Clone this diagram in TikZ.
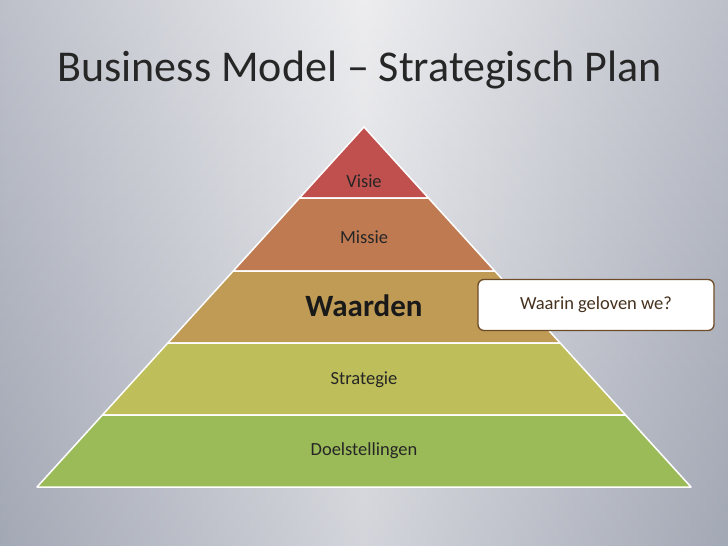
\documentclass[tikz,border=0pt]{standalone}
\usepackage{fontspec}
\setmainfont{Carlito}
\begin{document}
\begin{tikzpicture}[x=1pt,y=-1pt]
\useasboundingbox (0,0) rectangle (728,546);
\definecolor{bgd}{rgb}{0.64,0.66,0.71}
\definecolor{bgl}{rgb}{0.93,0.93,0.94}
\shade[left color=bgd, right color=bgd, middle color=bgl] (0,0) rectangle (728,546);
\shade[opacity=0.35,top color=bgl, bottom color=bgd] (0,0) rectangle (728,546);
\tikzset{layer/.style={draw=white,line width=1.5pt,line join=round}, lbl/.style={font=\fontsize{18.5}{22}\selectfont,text=black!85}}
\def\ax{364}\def\ay{127}\def\k{0.9083}
\newcommand{\lay}[3]{%
  \pgfmathsetmacro{\da}{\k*(#1-\ay)}\pgfmathsetmacro{\db}{\k*(#2-\ay)}%
  \fill[#3,layer] ({\ax-\da},#1) -- ({\ax+\da},#1) -- ({\ax+\db},#2) -- ({\ax-\db},#2) -- cycle;}
\fill[fill={rgb,255:red,192;green,80;blue,77},layer] (\ax,\ay) -- ({\ax+\k*71},198) -- ({\ax-\k*71},198) -- cycle;
\lay{198}{271}{fill={rgb,255:red,192;green,122;blue,82}}
\lay{271}{343}{fill={rgb,255:red,191;green,155;blue,85}}
\lay{343}{415}{fill={rgb,255:red,190;green,190;blue,90}}
\lay{415}{487}{fill={rgb,255:red,155;green,187;blue,89}}
\node[lbl] (visie) at (364,181) {Visie};
\node[lbl] (missie) at (364,237) {Missie};
\node[font=\bfseries\fontsize{31}{36}\selectfont,text=black!90] (waarden) at (364,306) {Waarden};
\node[lbl] (strategie) at (364,380) {Strategie};
\node[lbl] (doel) at (364,451) {Doelstellingen};
\node[draw={rgb,255:red,110;green,75;blue,40},line width=1.3pt,fill=white,rounded corners=6pt,minimum width=236pt,minimum height=51pt,font=\fontsize{18.5}{22}\selectfont,text={rgb,255:red,70;green,50;blue,30}] (callout) at (596,305) {Waarin geloven we?};
\node[anchor=west,font=\fontsize{44}{50}\selectfont,text=black!85] (title) at (54,70) {Business Model – Strategisch Plan};
\end{tikzpicture}
\end{document}
